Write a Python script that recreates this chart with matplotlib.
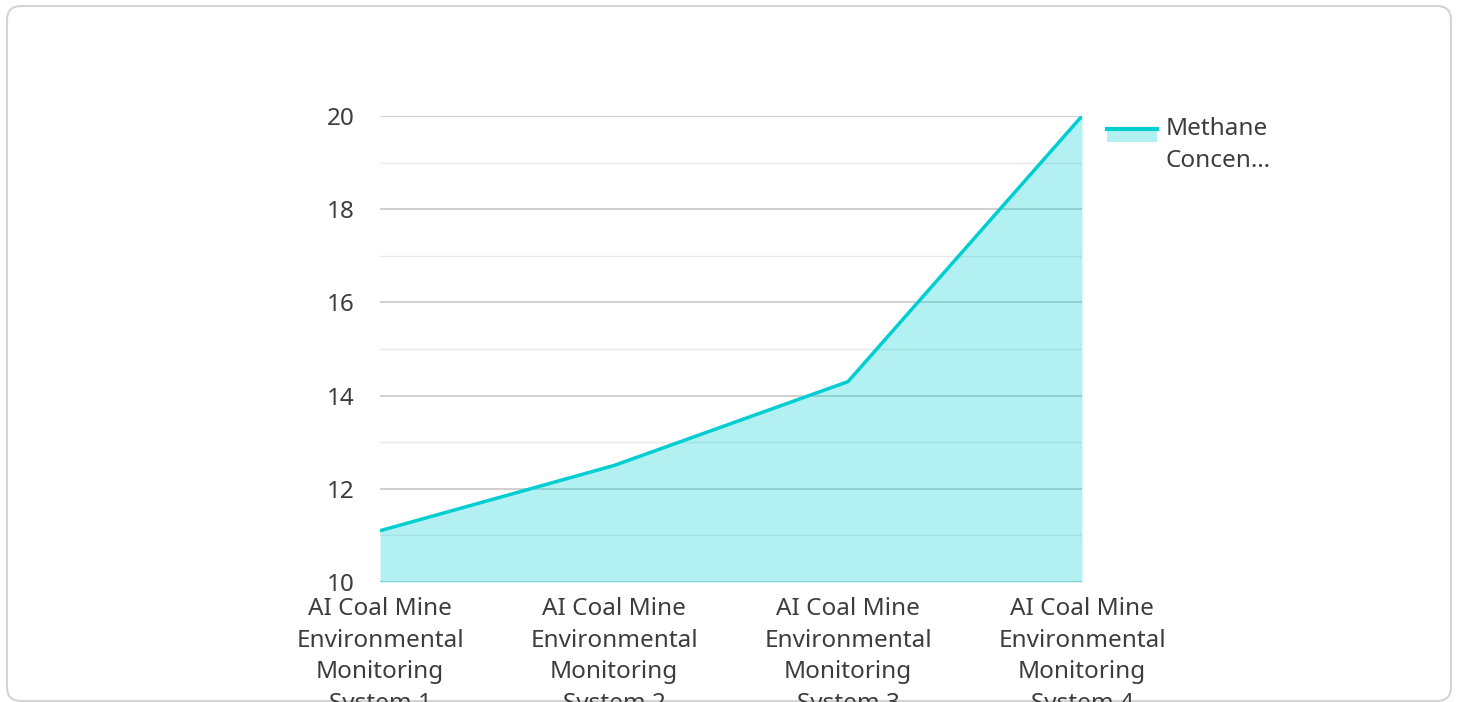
import matplotlib
matplotlib.use("Agg")
import matplotlib.pyplot as plt
from matplotlib.patches import FancyBboxPatch, Rectangle
from matplotlib.lines import Line2D
from matplotlib.legend_handler import HandlerBase
from matplotlib.ticker import MultipleLocator
from matplotlib.transforms import IdentityTransform

plt.rcParams['font.family'] = ['Noto Sans', 'DejaVu Sans']

categories = [
    "AI Coal Mine\nEnvironmental\nMonitoring\nSystem 1",
    "AI Coal Mine\nEnvironmental\nMonitoring\nSystem 2",
    "AI Coal Mine\nEnvironmental\nMonitoring\nSystem 3",
    "AI Coal Mine\nEnvironmental\nMonitoring\nSystem 4",
]
methane = [11.1, 12.5, 14.3, 20.0]
series_label = "Methane\nConcen…"
y_ticks = [10, 12, 14, 16, 18, 20]

LINE = "#00CED1"
TEXT = "#3d3d3d"
FS = 17.5

W, H = 1458, 702
fig = plt.figure(figsize=(W / 100, H / 100), dpi=100)

# card background (display pixel coords, origin bottom-left)
card = FancyBboxPatch((7, 1), 1451 - 7, 696 - 1,
                      boxstyle="round,pad=0,rounding_size=14",
                      transform=IdentityTransform(), facecolor="white",
                      edgecolor="#d4d4d4", linewidth=1.5, zorder=-5)
fig.patches.append(card)

ax = fig.add_axes([380 / W, 1 - 582 / H, (1082 - 380) / W, (582 - 116) / H])
ax.set_facecolor("none")
ax.set_zorder(2)
x = list(range(len(categories)))
ax.fill_between(x, 10, methane, color=LINE, alpha=0.3, linewidth=0, zorder=2)
ax.plot(x, methane, color=LINE, linewidth=2.5, zorder=3, solid_capstyle="butt")

ax.set_xlim(0, len(categories) - 1)
ax.set_ylim(10, 20)
ax.set_yticks(y_ticks)
ax.yaxis.set_minor_locator(MultipleLocator(1))
ax.set_xticks(x)
ax.set_xticklabels(categories, fontsize=FS, color=TEXT, linespacing=1.42)
ax.tick_params(axis="y", labelsize=FS, labelcolor=TEXT, length=0, pad=18)
ax.tick_params(axis="y", which="minor", length=0)
ax.tick_params(axis="x", length=0, pad=11)
ax.grid(axis="y", which="major", color="#c8c8c8", linewidth=1.2, zorder=1)
ax.grid(axis="y", which="minor", color="#e8e8e8", linewidth=1.0, zorder=1)
ax.set_axisbelow(True)
for s in ax.spines.values():
    s.set_visible(False)
ax.axhline(10, color="#8fcfd0", linewidth=1.5, zorder=4)


class FillLineHandler(HandlerBase):
    def create_artists(self, legend, orig_handle, xdescent, ydescent,
                       width, height, fontsize, trans):
        dy = 8.0  # raise swatch to first text line
        rect = Rectangle((-xdescent, -ydescent + dy), width, height,
                         facecolor=LINE, alpha=0.3, edgecolor="none",
                         transform=trans)
        yl = -ydescent + dy + height * 0.87
        ln = Line2D([-xdescent, -xdescent + width], [yl, yl],
                    color=LINE, linewidth=3, transform=trans)
        return [rect, ln]


handle = Rectangle((0, 0), 1, 1)
leg = fig.legend([handle], [series_label], handler_map={Rectangle: FillLineHandler()},
                 loc="upper left", bbox_to_anchor=(1107 / W, 1 - 117 / H),
                 frameon=False, fontsize=FS, labelcolor=TEXT,
                 handlelength=2.05, handleheight=0.62, handletextpad=0.35,
                 borderaxespad=0, borderpad=0)
for t in leg.get_texts():
    t.set_linespacing(1.47)

fig.savefig("out.png", dpi=100)
